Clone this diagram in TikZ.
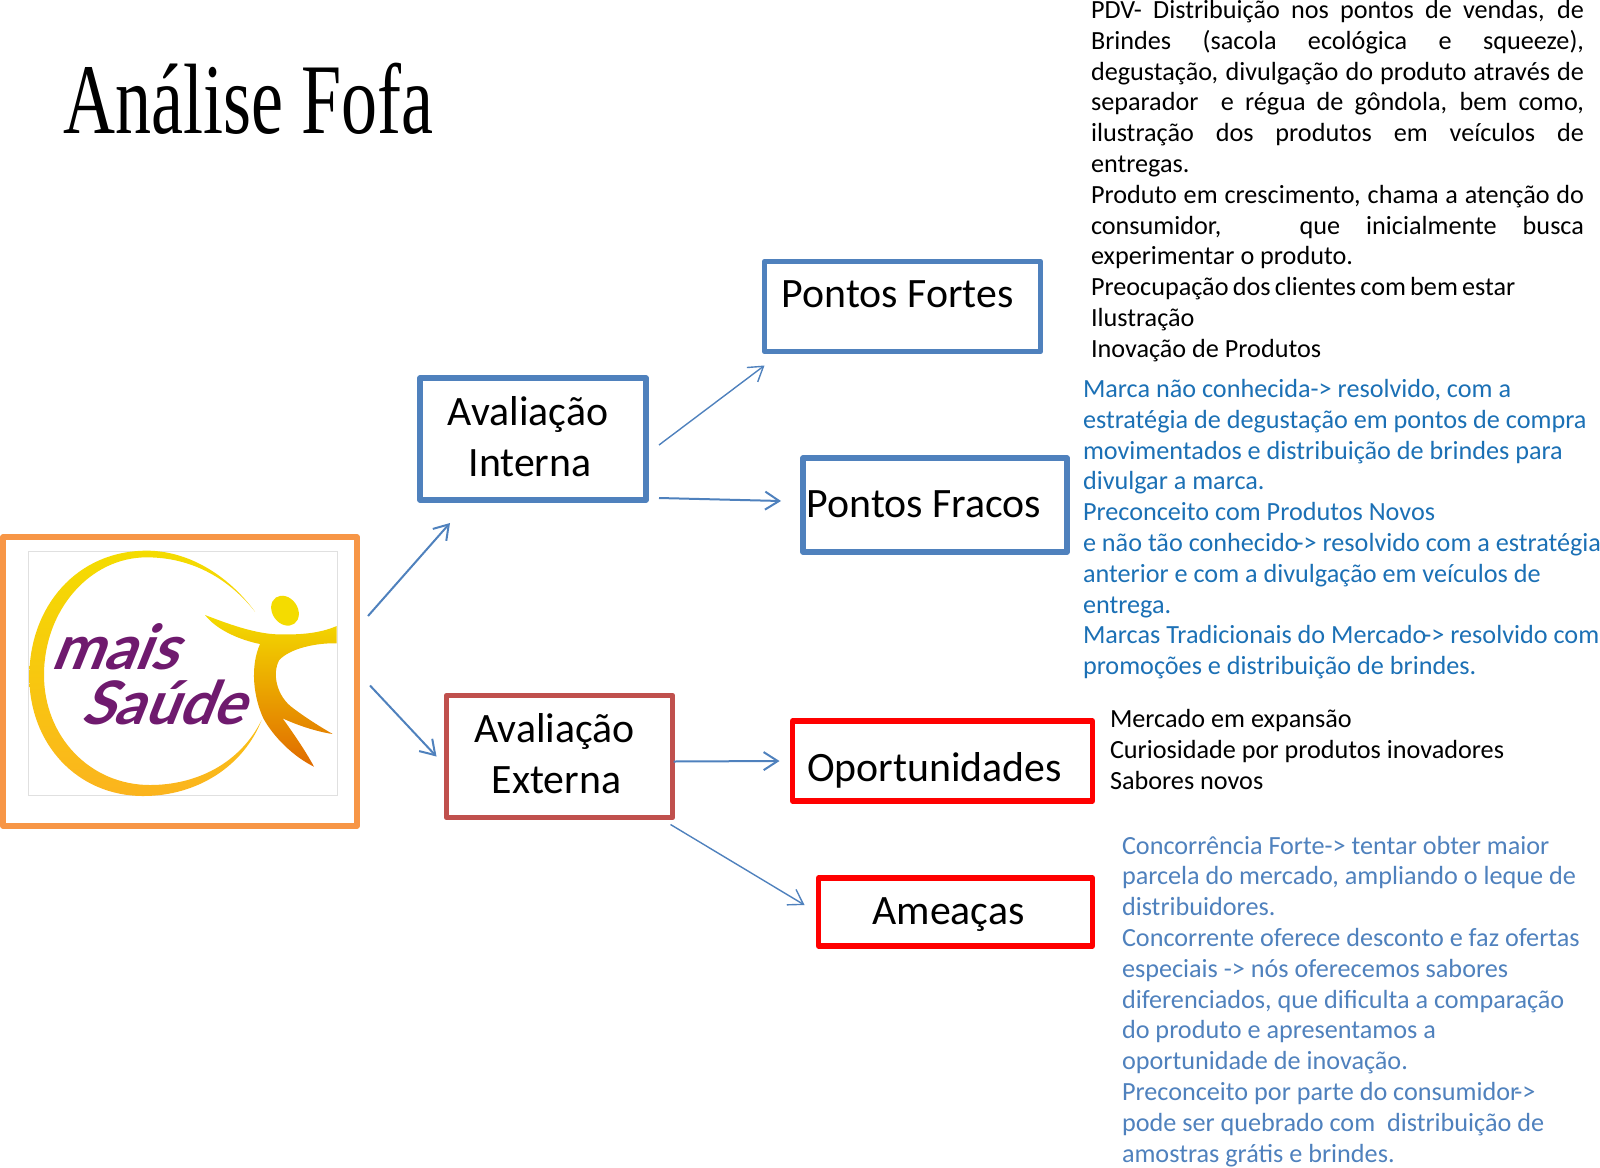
\documentclass[tikz,border=0pt]{standalone}
\usepackage{fontspec}
\setmainfont{Carlito}
\newfontfamily\titlefont{Liberation Serif}
\newfontfamily\logofont{Lato}
\usetikzlibrary{arrows.meta}
\tikzset{>={Straight Barb[length=7pt,width=9pt]}}
\definecolor{azul}{HTML}{4F81BD}
\definecolor{azulforte}{HTML}{1B70B5}
\definecolor{laranja}{HTML}{F79646}
\definecolor{tijolo}{HTML}{C0504D}
\definecolor{roxo}{HTML}{6F1A6E}
\definecolor{amarelo}{HTML}{F4DC00}
\definecolor{ouro}{HTML}{FBB41E}
\definecolor{telha}{HTML}{E06A00}
\tikzset{
  caixa/.style={draw, line width=2.7pt, line join=round, inner sep=0pt, outer sep=0pt, align=center, text=black,
    font=\fontsize{20.9}{25.5}\selectfont},
  seta/.style={->, draw=azul, line width=1pt},
  bloco/.style={anchor=north west, inner sep=0pt, outer sep=0pt,
    font=\fontsize{13.1}{15.4}\selectfont},
}
\hbadness=10000
\hfuzz=20pt
\begin{document}
\begin{tikzpicture}[x=0.5pt,y=-0.5pt]
  \useasboundingbox (0,0) rectangle (1600,1167);
  \node[anchor=base west, inner sep=0pt] (Titulo) at (63,133)
    {\titlefont\fontsize{50}{50}\selectfont\scalebox{0.72}[1]{Análise Fofa}};

  % logotipo
  \node[draw=laranja, line width=2.7pt, line join=round, minimum width=354pt/2, minimum height=289pt/2, inner sep=0pt, outer sep=0pt] (Logo) at (180,681.5) {};
  \node[draw=black!12, line width=0.4pt, minimum width=309pt/2, minimum height=244pt/2, inner sep=0pt, outer sep=0pt] (Foto) at (182.5,673) {};
  \begin{scope}[shift={(0,520)},x=0.16667pt,y=-0.16667pt]
    \shade[top color=amarelo, bottom color=ouro]
      (765,275) .. controls (680,160) and (560,92) .. (440,92)
      .. controls (230,92) and (88,260) .. (88,470)
      .. controls (88,670) and (230,828) .. (430,828)
      .. controls (590,828) and (730,740) .. (785,600)
      .. controls (720,730) and (590,795) .. (450,795)
      .. controls (270,795) and (132,650) .. (132,465)
      .. controls (132,270) and (270,112) .. (440,112)
      .. controls (580,112) and (690,180) .. (765,275) -- cycle;
    \shade[shading angle=160, top color=amarelo, middle color=ouro, bottom color=telha]
      (615,285) .. controls (680,310) and (760,340) .. (830,343)
      .. controls (900,345) and (960,340) .. (1010,318)
      -- (1010,370) .. controls (950,368) and (870,385) .. (838,420)
      .. controls (815,460) and (830,530) .. (880,565)
      .. controls (920,595) and (960,620) .. (998,642)
      .. controls (950,635) and (890,615) .. (848,595)
      .. controls (880,640) and (915,690) .. (942,740)
      .. controls (880,710) and (820,650) .. (790,595)
      .. controls (760,530) and (750,440) .. (780,372)
      .. controls (720,360) and (650,330) .. (615,285) -- cycle;
    \fill[amarelo, rotate around={35:(855,272)}] (855,272) ellipse (38 and 48);
    \node[text=roxo, anchor=base west, inner sep=0pt, xslant=0.4, transform shape,
      font=\logofont\bfseries\fontsize{31}{31}\selectfont] (Mais) at (150,447) {mais};
    \node[text=roxo, anchor=base west, inner sep=0pt, xslant=0.4, transform shape,
      font=\logofont\bfseries\fontsize{30}{30}\selectfont] (Saude) at (240,612) {Saúde};
  \end{scope}

  % caixas
  \node[caixa, draw=azul, minimum width=113pt, minimum height=61pt] (Interna) at (533,439) {Avaliação\hspace*{5pt}\\Interna\hspace*{3pt}\rule[-3pt]{0pt}{3pt}};
  \node[caixa, draw=tijolo, minimum width=113pt, minimum height=61pt] (Externa) at (559.5,756.5) {Avaliação\hspace*{5pt}\\Externa\hspace*{3pt}\rule[-3pt]{0pt}{3pt}};
  \node[caixa, draw=azul, minimum width=138pt, minimum height=45pt, text height=0.5pt, text depth=0pt] (Fortes) at (902.5,306.5) {Pontos Fortes\hspace*{5pt}};
  \node[caixa, draw=azul, minimum width=132pt, minimum height=47pt, text height=12pt, text depth=0pt] (Fracos) at (935,505) {Pontos Fracos\hspace*{11pt}};
  \node[caixa, draw=red, minimum width=150pt, minimum height=40pt, text height=20pt, text depth=0pt] (Oportunidades) at (942.5,761) {Oportunidades\hspace*{8pt}};
  \node[caixa, draw=red, minimum width=137pt, minimum height=34pt, text height=12pt, text depth=0pt] (Ameacas) at (955.5,912) {Ameaças\hspace*{7pt}};

  % setas
  \draw[seta] ([shift={(11,-65.5)}]Logo.east) -- ([shift={(30,23)}]Interna.south west);
  \draw[seta] ([shift={(13,4)}]Logo.east) -- ([shift={(-10,0)}]Externa.west);
  \draw[seta, line width=0.7pt] ([shift={(13,6)}]Interna.east) -- ([shift={(0,14)}]Fortes.south west);
  \draw[seta] ([shift={(13,59)}]Interna.east) -- ([shift={(-22,-4)}]Fracos.west);
  \draw[seta] ([shift={(1,5)}]Externa.east) -- ([shift={(-13,0)}]Oportunidades.west);
  \draw[seta, line width=0.7pt] ([shift={(-2,7)}]Externa.south east) -- ([shift={(-14,-7)}]Ameacas.west);

  % textos
  \node[bloco, text width=246.5pt, align=justify] (TxtFortes) at (1091,-3) {\strut
    PDV- Distribuição nos pontos de vendas, de\linebreak
    Brindes (sacola ecológica e squeeze),\linebreak
    degustação, divulgação do produto através de\linebreak
    separador\ \ e régua de gôndola, bem como,\linebreak
    ilustração dos produtos em veículos de\linebreak
    entregas.\\
    Produto em crescimento, chama a atenção do\linebreak
    consumidor,\ \ \ que inicialmente busca\linebreak
    experimentar o produto.\\
    {\spaceskip=2.1pt Preocupação dos clientes com bem estar}\\
    Ilustração\\
    Inovação de Produtos};
  \node[bloco, text=azulforte, align=left] (TxtFracos) at (1083,376) {\strut
    Marca não conhecida-> resolvido, com a\\
    estratégia de degustação em pontos de compra\\
    movimentados e distribuição de brindes para\\
    divulgar a marca.\\
    Preconceito com Produtos Novos\\
    e não tão conhecido\kern-1.5pt-> resolvido com a estratégia\\
    anterior e com a divulgação em veículos de\\
    entrega.\\
    Marcas Tradicionais do Mercado\kern-1.5pt-> resolvido com\\
    promoções e distribuição de brindes.};
  \node[bloco, align=left] (TxtOportunidades) at (1110,706) {\strut
    Mercado em expansão\\
    Curiosidade por produtos inovadores\\
    Sabores novos};
  \node[bloco, text=azul, align=left] (TxtAmeacas) at (1122,832.5) {\strut
    Concorrência Forte-> tentar obter maior\\
    parcela do mercado, ampliando o leque de\\
    distribuidores.\\
    Concorrente oferece desconto e faz ofertas\\
    especiais -> nós oferecemos sabores\\
    diferenciados, que dificulta a comparação\\
    do produto e apresentamos a\\
    oportunidade de inovação.\\
    Preconceito por parte do consumidor\kern-2.5pt->\\
    pode ser quebrado com\ \ distribuição de\\
    amostras grátis e brindes.};
\end{tikzpicture}
\end{document}
